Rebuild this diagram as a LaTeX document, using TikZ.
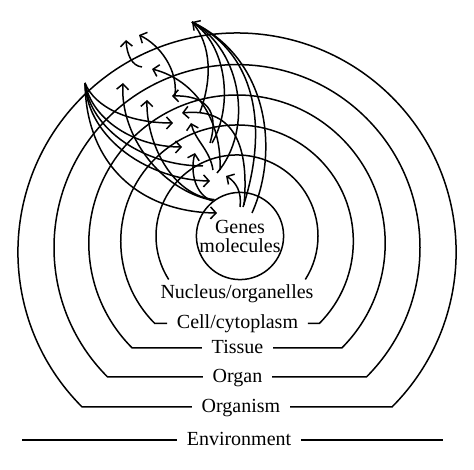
\documentclass[tikz,border=0pt]{standalone}
\usepackage{fontspec}
\setmainfont{Liberation Serif}
\usepackage{tikz}
\usetikzlibrary{arrows.meta}
\tikzset{
	every path/.style={line width=1.5pt},
	level/.style={font=\fontsize{20}{19}\selectfont,inner sep=0pt,text height=13.5pt,text depth=2.5pt},
	>={Straight Barb[length=5.5pt,width=12pt]},
}

\begin{document}
\begin{tikzpicture}[x=1pt,y=1pt]
	\useasboundingbox (0,0) rectangle (474,470);

	% labels..............................
	\node [level] (nucleus) at (237,176.5) {Nucleus/organelles};
	\node [level] (cell) at (237.5,146.5) {Cell/cytoplasm};
	\node [level] (tissue) at (237.5,122) {Tissue};
	\node [level] (organ) at (237.5,93) {Organ};
	\node [level] (organism) at (241,63) {Organism};
	\node [level] (environment) at (239,30) {Environment};

	% genes circle........................
	\node [draw,circle,minimum size=86pt,inner sep=0pt,align=center,font=\fontsize{20}{19}\selectfont] (genes) at (240,234) {Genes\\molecules};

	% rings...............................
	\draw (168.7,190.5) arc [start angle=212.5, end angle=-32.5, radius=81];
	\draw ([xshift=-9pt]cell.west) -- (154.8,146.5) arc [start angle=225, end angle=-45, radius=116.3] -- ([xshift=9pt]cell.east);
	\draw ([xshift=-9pt]tissue.west) -- (132.2,122) arc [start angle=225, end angle=-45, radius=148.2] -- ([xshift=9pt]tissue.east);
	\draw ([xshift=-9pt]organ.west) -- (107.6,93) arc [start angle=225, end angle=-45, radius=183] -- ([xshift=9pt]organ.east);
	\draw ([xshift=-9pt]organism.west) -- (82.1,63) arc [start angle=225, end angle=-45, radius=219.1] -- ([xshift=9pt]organism.east);

	% environment line....................
	\coordinate (envL) at (22,30);
	\coordinate (envR) at (443,30);
	\draw (envL) -- ([xshift=-9pt]environment.west);
	\draw ([xshift=9pt]environment.east) -- (envR);

	% end points of the arrows............
	\coordinate (orgsrc) at (85,387);
	\coordinate (envtop) at (192,448);
	\coordinate (dtis) at (173,347);
	\coordinate (dcel) at (182,323);
	\coordinate (dnuc) at (203,304);
	\coordinate (dnucb) at (210,289);
	\coordinate (dgen) at (217,257);
	\coordinate (utis) at (200,358);
	\coordinate (ucel) at (212,327);
	\coordinate (unuc) at (217,297);
	\coordinate (ugen) at (243,263);
	\coordinate (ugenb) at (252,257);
	\coordinate (eorg) at (142,403);
	\coordinate (eorgtip) at (126,430);
	\coordinate (eorgan) at (175,375);
	\coordinate (eorgantip) at (139,435);
	\coordinate (gorgtip) at (123,387);
	\coordinate (gorgantip) at (147,370);
	\coordinate (gceltip) at (195,317);
	\coordinate (gnuc) at (240,263);
	\coordinate (gnuctip) at (226,294);
	\coordinate (ttis) at (213,300);
	\coordinate (ttistip) at (191,347);
	\coordinate (horg) at (220,300);
	\coordinate (horgtip) at (152,401);
	\coordinate (horgan) at (210,327);
	\coordinate (horgantip) at (172,374);
	\coordinate (htis) at (244,265);
	\coordinate (htistip) at (182,357);

	% organism down to the inner levels...
	\draw [->] (orgsrc) .. controls (95,362) and (130,347) .. (dtis);
	\draw [->] (orgsrc) .. controls (92,350) and (135,323) .. (dcel);
	\draw (orgsrc) .. controls (90,340) and (145,304) .. (dnuc);
	\draw [->] (orgsrc) .. controls (88,330) and (150,290) .. (dnucb);
	\draw [->] (orgsrc) .. controls (86,305) and (140,258) .. (dgen);

	% inner levels up to the environment..
	\draw (utis) .. controls (212,390) and (212,425) .. (envtop);
	\draw [->] (ucel) .. controls (234,365) and (226,425) .. (envtop);
	\draw (unuc) .. controls (254,340) and (242,420) .. (envtop);
	\draw (ugen) .. controls (268,340) and (258,415) .. (envtop);
	\draw (ugenb) .. controls (280,320) and (268,412) .. (envtop);
	\draw [->] (eorg) .. controls (132,404) and (127,415) .. (eorgtip);
	\draw [->] (eorgan) .. controls (178,400) and (160,425) .. (eorgantip);

	% genes up to the outer levels........
	\draw [->] (genes.127) .. controls (160,280) and (120,335) .. (gorgtip);
	\draw [->] (genes.125) .. controls (170,275) and (146,330) .. (gorgantip);
	\draw [->] (genes.128) .. controls (195,275) and (190,298) .. (gceltip);
	\draw [->] (gnuc) .. controls (242,278) and (236,288) .. (gnuctip);
	\draw [->] (ttis) .. controls (210,320) and (195,330) .. (ttistip);

	% bent arrows to the left.............
	\draw [->] (horg) .. controls (222,350) and (195,390) .. (horgtip);
	\draw [->] (horgan) .. controls (220,360) and (205,375) .. (horgantip);
	\draw [->] (htis) .. controls (250,330) and (230,362) .. (htistip);
\end{tikzpicture}
\end{document}
